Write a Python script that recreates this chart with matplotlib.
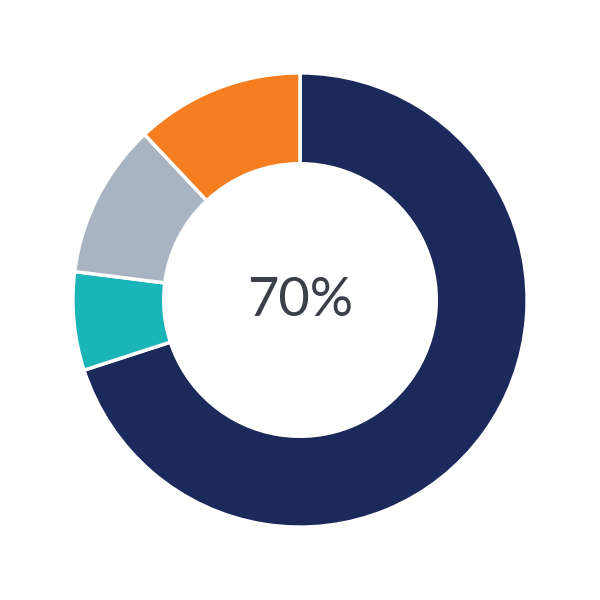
import matplotlib
matplotlib.use("Agg")
import matplotlib.pyplot as plt

#Slice data (share of the whole, clockwise from the top)
labels = ["Main", "Teal", "Gray", "Orange"]
values = [70, 7, 11, 12]
colors = ["#1B2A5A", "#1AB5B8", "#A9B4C2", "#F47E20"]
center_text = "70%"

fig = plt.figure(figsize=(6, 6), dpi=100)
ax = fig.add_axes([0, 0, 1, 1])
outer_r = 0.757
ax.pie(values, colors=colors, startangle=90, counterclock=False,
       radius=outer_r,
       wedgeprops=dict(width=outer_r * 0.4, edgecolor="white", linewidth=2.5))
ax.text(0, 0.0, center_text, ha="center", va="center", fontsize=39,
        color="#3A3F48", family=["Lato", "DejaVu Sans"], fontweight="normal")
ax.set_xlim(-1, 1)
ax.set_ylim(-1, 1)
ax.set_aspect("equal")
ax.axis("off")
fig.savefig("out.png", dpi=100, facecolor="white")
